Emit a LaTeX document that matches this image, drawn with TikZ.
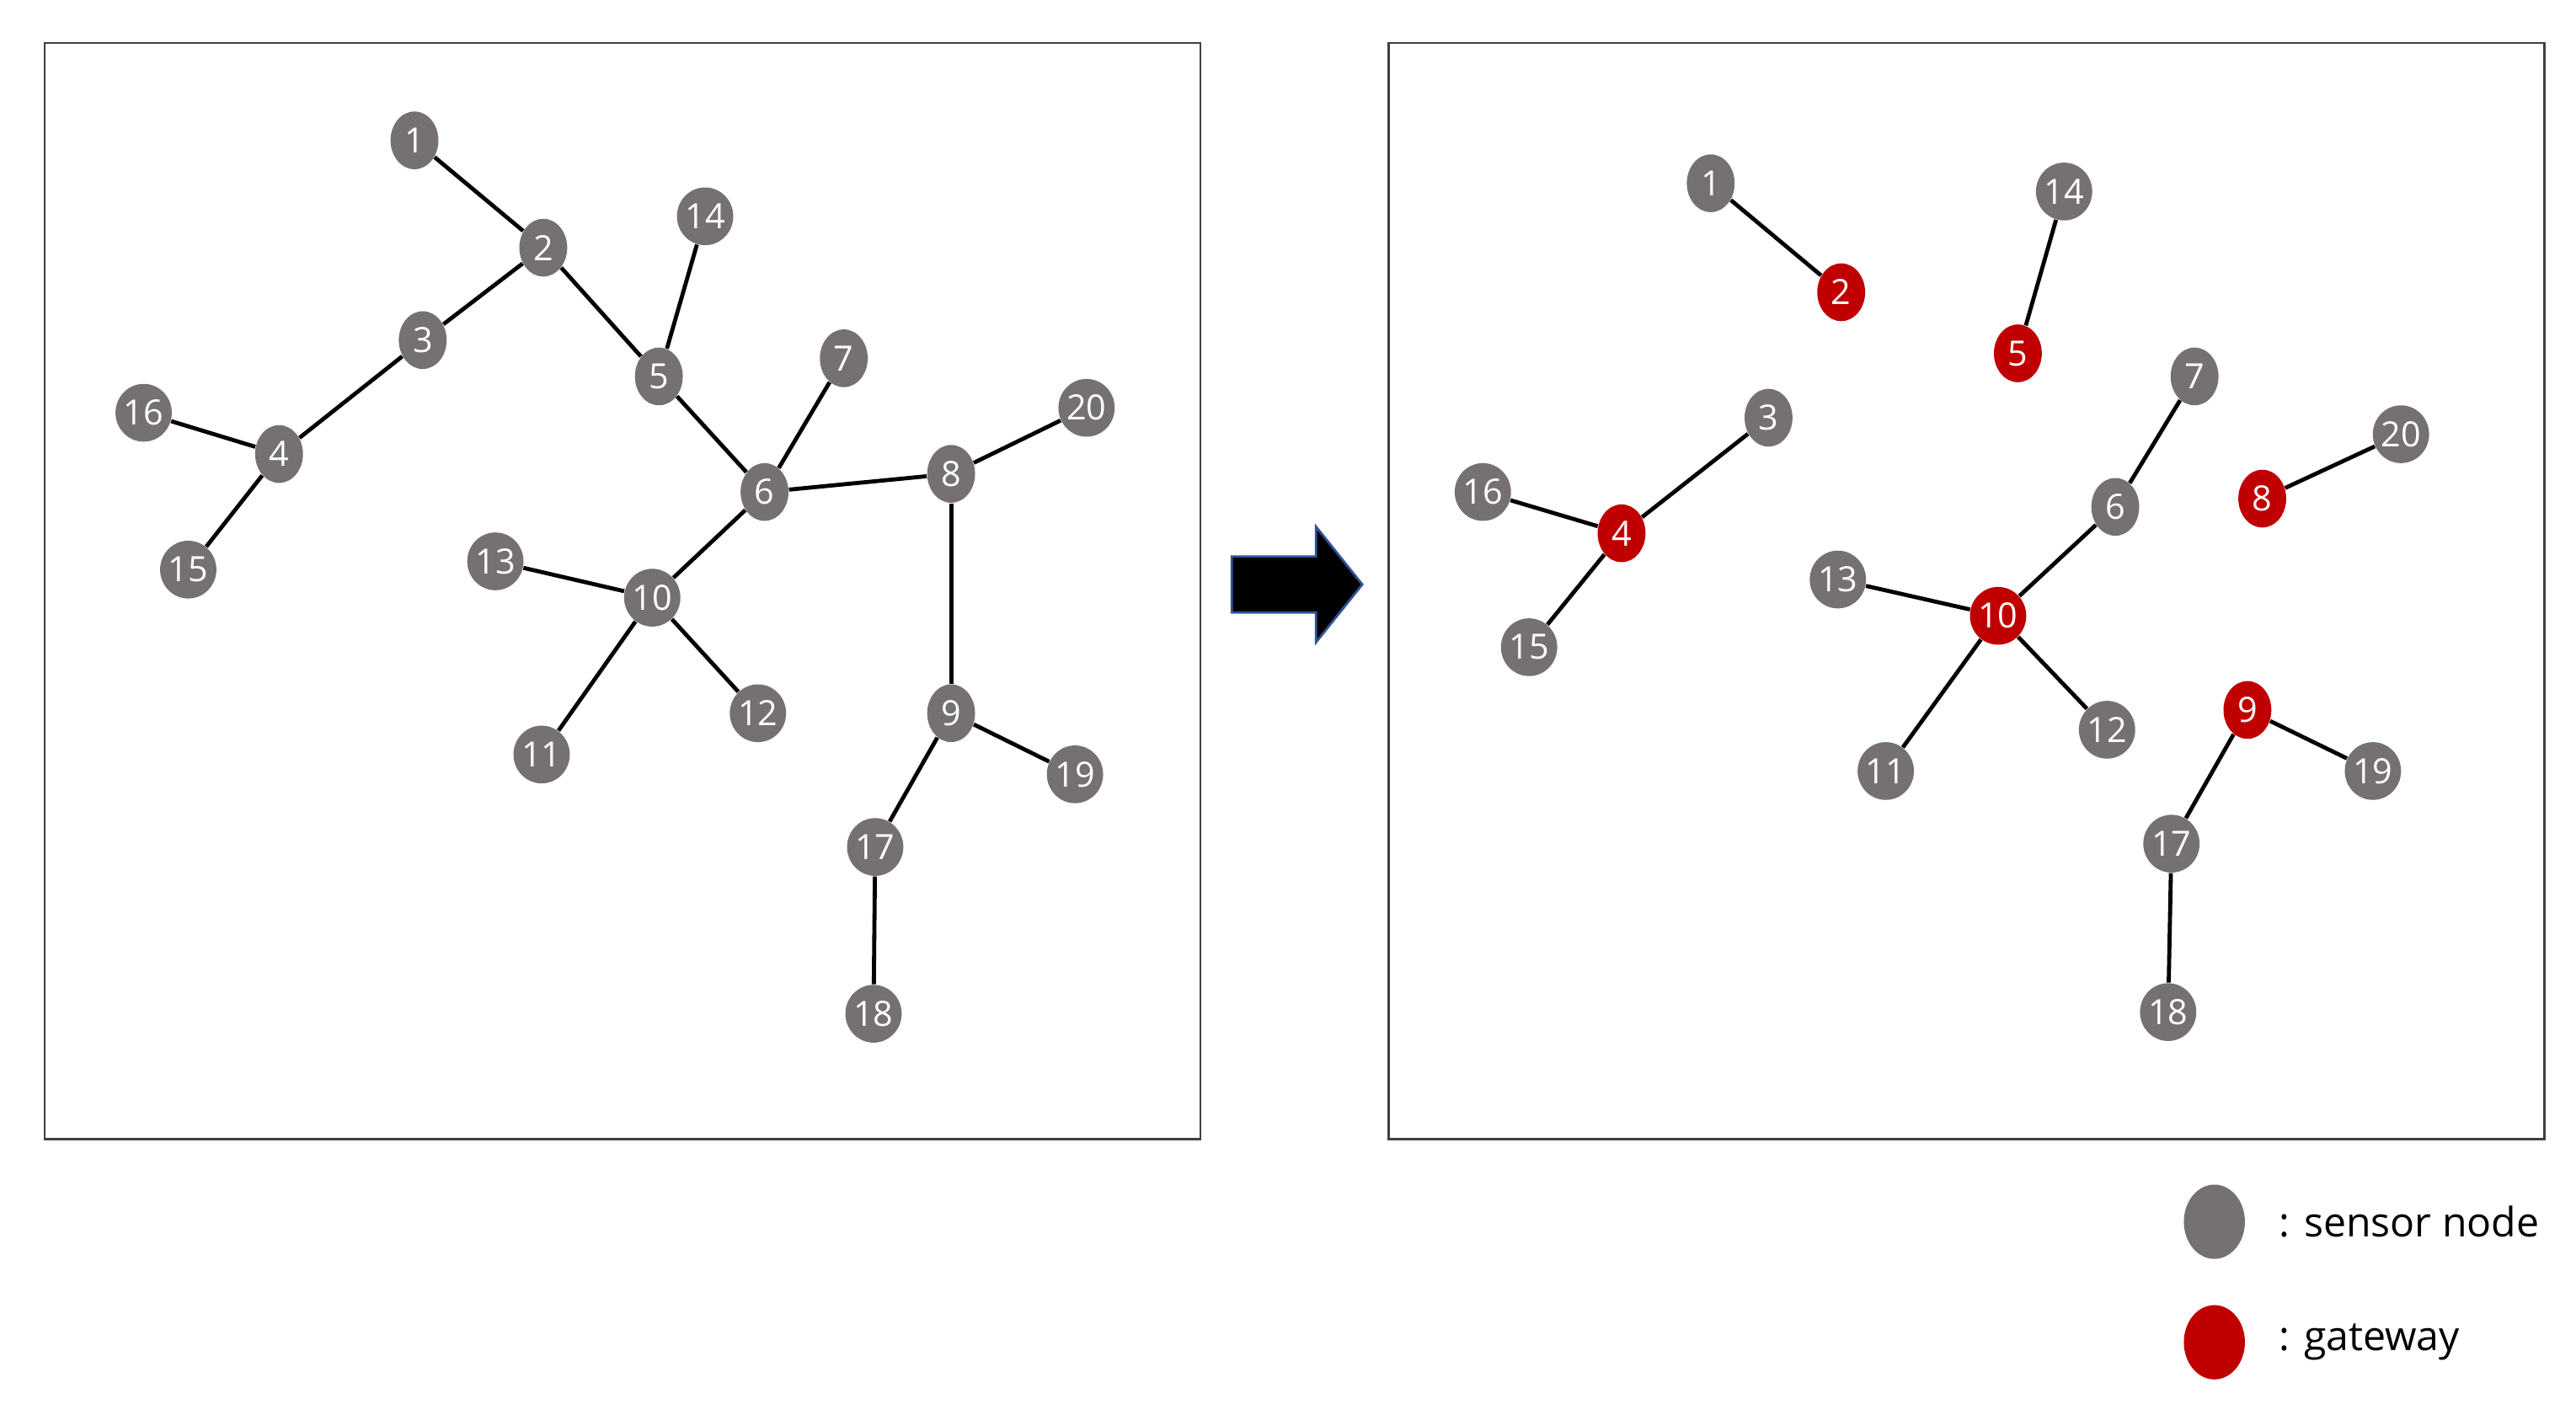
\documentclass[tikz,border=0pt]{standalone}
\usepackage{fontspec}
\setmainfont{Open Sans}
\usetikzlibrary{shapes.geometric}
\definecolor{nodegray}{RGB}{117,113,112}
\definecolor{gwred}{RGB}{192,0,0}
\definecolor{arrowblue}{RGB}{47,85,151}
\tikzset{
  sensor/.style={ellipse, fill=nodegray, text=white, minimum width=0.58cm, minimum height=0.70cm, inner sep=0pt, font=\fontsize{12}{12}\selectfont},
  gateway/.style={sensor, fill=gwred},
  link/.style={line width=1.4pt, black},
  panel/.style={draw=black!75, line width=0.8pt},
  keytext/.style={anchor=west, font=\fontsize{14}{14}\selectfont}
}
\begin{document}
\begin{tikzpicture}[x=0.02cm, y=-0.02cm]
    \useasboundingbox (0,0) rectangle (1560,850);
    % before
    \draw[panel] (27,26) rectangle (727,690);
    \node[sensor] (l1) at (251,85) {1};
    \node[sensor] (l2) at (329,150) {2};
    \node[sensor] (l3) at (256,206) {3};
    \node[sensor] (l4) at (169,275) {4};
    \node[sensor] (l5) at (399,228) {5};
    \node[sensor] (l6) at (463,298) {6};
    \node[sensor] (l7) at (511,217) {7};
    \node[sensor] (l8) at (576,287) {8};
    \node[sensor] (l9) at (576,432) {9};
    \node[sensor] (l10) at (395,362) {10};
    \node[sensor] (l11) at (328,457) {11};
    \node[sensor] (l12) at (459,432) {12};
    \node[sensor] (l13) at (300,340) {13};
    \node[sensor] (l14) at (427,131) {14};
    \node[sensor] (l15) at (114,345) {15};
    \node[sensor] (l16) at (87,250) {16};
    \node[sensor] (l17) at (530,513) {17};
    \node[sensor] (l18) at (529,614) {18};
    \node[sensor] (l19) at (651,469) {19};
    \node[sensor] (l20) at (658,247) {20};
    \draw[link] (l1) -- (l2);
    \draw[link] (l2) -- (l3);
    \draw[link] (l2) -- (l5);
    \draw[link] (l3) -- (l4);
    \draw[link] (l4) -- (l16);
    \draw[link] (l4) -- (l15);
    \draw[link] (l5) -- (l14);
    \draw[link] (l5) -- (l6);
    \draw[link] (l6) -- (l7);
    \draw[link] (l6) -- (l8);
    \draw[link] (l6) -- (l10);
    \draw[link] (l8) -- (l20);
    \draw[link] (l8) -- (l9);
    \draw[link] (l10) -- (l13);
    \draw[link] (l10) -- (l11);
    \draw[link] (l10) -- (l12);
    \draw[link] (l9) -- (l19);
    \draw[link] (l9) -- (l17);
    \draw[link] (l17) -- (l18);
    % arrow
    \filldraw[fill=black, draw=arrowblue, line width=0.8pt] (746,337) -- (797,337) -- (797,319) -- (825,354) -- (797,389) -- (797,371) -- (746,371) -- cycle;
    % after
    \draw[panel] (841,26) rectangle (1541,690);
    \node[sensor] (r1) at (1036,111) {1};
    \node[gateway] (r2) at (1115,177) {2};
    \node[sensor] (r3) at (1071,253) {3};
    \node[gateway] (r4) at (982,323) {4};
    \node[gateway] (r5) at (1222,214) {5};
    \node[sensor] (r6) at (1281,307) {6};
    \node[sensor] (r7) at (1329,228) {7};
    \node[gateway] (r8) at (1370,302) {8};
    \node[gateway] (r9) at (1361,430) {9};
    \node[gateway] (r10) at (1210,373) {10};
    \node[sensor] (r11) at (1142,467) {11};
    \node[sensor] (r12) at (1276,442) {12};
    \node[sensor] (r13) at (1113,351) {13};
    \node[sensor] (r14) at (1250,116) {14};
    \node[sensor] (r15) at (926,392) {15};
    \node[sensor] (r16) at (898,298) {16};
    \node[sensor] (r17) at (1315,511) {17};
    \node[sensor] (r18) at (1313,613) {18};
    \node[sensor] (r19) at (1437,467) {19};
    \node[sensor] (r20) at (1454,263) {20};
    \draw[link] (r1) -- (r2);
    \draw[link] (r14) -- (r5);
    \draw[link] (r3) -- (r4);
    \draw[link] (r16) -- (r4);
    \draw[link] (r15) -- (r4);
    \draw[link] (r7) -- (r6);
    \draw[link] (r6) -- (r10);
    \draw[link] (r13) -- (r10);
    \draw[link] (r11) -- (r10);
    \draw[link] (r12) -- (r10);
    \draw[link] (r8) -- (r20);
    \draw[link] (r9) -- (r19);
    \draw[link] (r9) -- (r17);
    \draw[link] (r17) -- (r18);
    % legend
    \node[sensor, minimum width=0.74cm, minimum height=0.9cm] (keysensor) at (1341,740) {};
    \node[keytext] (keysensortext) at (1374,740) {: sensor node};
    \node[gateway, minimum width=0.74cm, minimum height=0.9cm] (keygateway) at (1341,813) {};
    \node[keytext] (keygatewaytext) at (1374,813) {: gateway};
\end{tikzpicture}
\end{document}
